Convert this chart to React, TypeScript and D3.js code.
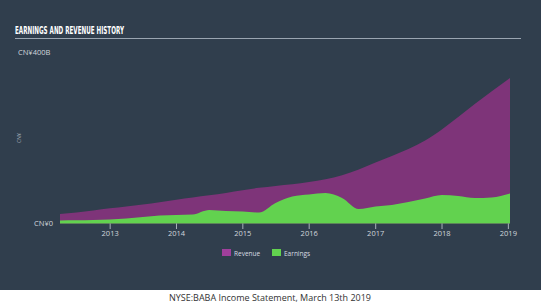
import React from "react";
import * as d3 from "d3";

const dates = [
  "2012-03-31","2012-06-30","2012-09-30","2012-12-31",
  "2013-03-31","2013-06-30","2013-09-30","2013-12-31",
  "2014-03-31","2014-06-30","2014-09-30","2014-12-31",
  "2015-03-31","2015-06-30","2015-09-30","2015-12-31",
  "2016-03-31","2016-06-30","2016-09-30","2016-12-31",
  "2017-03-31","2017-06-30","2017-09-30","2017-12-31",
  "2018-03-31","2018-06-30","2018-09-30","2019-01-10",
];
const revenue = [
  22.2, 25.7, 30.4, 35.5, 40.0, 44.6, 50.0, 55.8,
  61.0, 66.0, 71.5, 77.8, 83.5, 88.0, 92.0, 97.1,
  103.5, 113.0, 126.5, 142.5, 157.9, 174.3, 194.0, 220.0,
  249.1, 279.5, 309.0, 340.4,
];
const earnings = [
  7.0, 7.5, 8.2, 9.4, 11.7, 15.2, 18.7, 19.9,
  21.1, 31.6, 29.2, 28.1, 25.7, 48.0, 63.2, 67.8,
  71.3, 59.6, 33.9, 39.8, 43.3, 50.3, 58.5, 66.7,
  64.3, 59.6, 60.8, 70.2,
];
const yTickLabels = ["CN¥0", "CN¥400B"];
const yTickValues = [0, 400];
const xTickYears = [2013, 2014, 2015, 2016, 2017, 2018, 2019];

export default function App() {
  const W = 541, H = 306;
  const parse = d3.timeParse("%Y-%m-%d");
  const pts = dates.map((d, i) => ({ t: parse(d) as Date, r: revenue[i], e: earnings[i] }));
  const x = d3.scaleTime().domain([pts[0].t, pts[pts.length - 1].t]).range([60, 510]);
  const y = d3.scaleLinear().domain([0, 400]).range([223.5, 52.5]);
  const revArea = d3.area<any>().x(d => x(d.t)).y0(y(0)).y1(d => y(d.r)).curve(d3.curveMonotoneX);
  const earnArea = d3.area<any>().x(d => x(d.t)).y0(y(0)).y1(d => y(d.e)).curve(d3.curveMonotoneX);
  const font = "'Open Sans', 'DejaVu Sans', sans-serif";
  return (
    <svg width={W} height={H} style={{ position: "absolute", left: 0, top: 0 }}>
      <rect x={0} y={0} width={W} height={290} fill="#303e4d" />
      <rect x={0} y={290} width={W} height={16} fill="#ffffff" />
      <text x={15} y={34} fill="#ffffff" fontFamily="'DejaVu Sans Condensed', 'DejaVu Sans', sans-serif"
        fontWeight="bold" fontSize={10.5} textLength={109} lengthAdjust="spacingAndGlyphs">
        EARNINGS AND REVENUE HISTORY
      </text>
      <line x1={15} x2={521} y1={38.5} y2={38.5} stroke="#9aa5b1" strokeWidth={1.2} />
      <path d={revArea(pts) || ""} fill="#7e3479" />
      <path d={earnArea(pts) || ""} fill="#62d24f" />
      {yTickValues.map((v, i) => (
        <text key={i} x={i === 0 ? 53 : 18} y={y(v) + 2.5} textAnchor={i === 0 ? "end" : "start"}
          fill="#d0d6dc" fontFamily={font} fontSize={7.5}>
          {yTickLabels[i]}
        </text>
      ))}
      <text transform="translate(21,138) rotate(-90)" textAnchor="middle" fill="#aab3bd"
        fontFamily={font} fontSize={5}>CN¥</text>
      {xTickYears.map(yr => {
        const xp = x(new Date(yr, 0, 1));
        return (
          <g key={yr}>
            <line x1={xp} x2={xp} y1={223.5} y2={229} stroke="#c8cfd6" strokeWidth={0.8} />
            <text x={xp} y={236} textAnchor="middle" fill="#d0d6dc" fontFamily={font} fontSize={7.5}>{yr}</text>
          </g>
        );
      })}
      <rect x={222} y={249} width={9} height={7} fill="#a03f9c" />
      <text x={234} y={255.5} fill="#d8dde2" fontFamily={font} fontSize={6.5}>Revenue</text>
      <rect x={272} y={249} width={9} height={7} fill="#62d24f" />
      <text x={284} y={255.5} fill="#d8dde2" fontFamily={font} fontSize={6.5}>Earnings</text>
      <text x={270} y={301} textAnchor="middle" fill="#333333" fontFamily={font} fontSize={9}>
        NYSE:BABA Income Statement, March 13th 2019
      </text>
    </svg>
  );
}
